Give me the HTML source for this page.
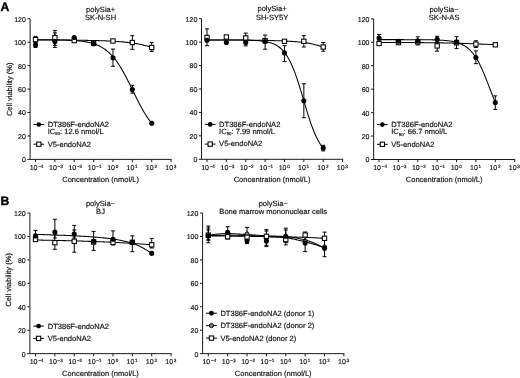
<!DOCTYPE html>
<html><head><meta charset="utf-8"><title>Cell viability</title>
<style>
html,body{margin:0;padding:0;background:#fff;}
body{width:520px;height:378px;overflow:hidden;}
svg{display:block;font-family:"Liberation Sans", Arial, Helvetica, sans-serif;text-rendering:geometricPrecision;}
text{stroke:#222;stroke-width:0.18px;paint-order:stroke;}
</style></head><body>
<svg width="520" height="378" viewBox="0 0 520 378">
<rect width="520" height="378" fill="#fff"/>
<text x="0.4" y="10.5" font-size="12.2" font-weight="bold" fill="#000" style="stroke:#000;stroke-width:0.35px">A</text>
<text x="0.6" y="204.9" font-size="12.2" font-weight="bold" fill="#000" style="stroke:#000;stroke-width:0.35px">B</text>
<g stroke="#1a1a1a" stroke-width="1" fill="none">
<path d="M30.1 18.76V159.4M27.3 159.4H171.59"/>
<path d="M27.5 135.96H30.1M27.5 112.52H30.1M27.5 89.08H30.1M27.5 65.64H30.1M27.5 42.2H30.1M27.5 18.76H30.1M35.5 159.4V162.1M54.87 159.4V162.1M74.24 159.4V162.1M93.61 159.4V162.1M112.98 159.4V162.1M132.35 159.4V162.1M151.72 159.4V162.1M171.09 159.4V162.1"/>
</g>
<g font-size="7.0" fill="#111" text-anchor="end">
<text x="25.9" y="162.3">0</text>
<text x="25.9" y="138.86">20</text>
<text x="25.9" y="115.42">40</text>
<text x="25.9" y="91.98">60</text>
<text x="25.9" y="68.54">80</text>
<text x="25.9" y="45.1">100</text>
<text x="25.9" y="21.66">120</text>
</g>
<g font-size="7.0" fill="#111">
<text x="29.65" y="170.2">10<tspan font-size="4.6" dx="0.75" dy="-2.2">−4</tspan></text>
<text x="49.02" y="170.2">10<tspan font-size="4.6" dx="0.75" dy="-2.2">−3</tspan></text>
<text x="68.39" y="170.2">10<tspan font-size="4.6" dx="0.75" dy="-2.2">−2</tspan></text>
<text x="87.76" y="170.2">10<tspan font-size="4.6" dx="0.75" dy="-2.2">−1</tspan></text>
<text x="107.13" y="170.2">10<tspan font-size="4.6" dx="0.75" dy="-2.2">0</tspan></text>
<text x="126.5" y="170.2">10<tspan font-size="4.6" dx="0.75" dy="-2.2">1</tspan></text>
<text x="145.87" y="170.2">10<tspan font-size="4.6" dx="0.75" dy="-2.2">2</tspan></text>
<text x="165.24" y="170.2">10<tspan font-size="4.6" dx="0.75" dy="-2.2">3</tspan></text>
</g>
<text x="100.59" y="181.6" font-size="7.55" fill="#111" text-anchor="middle">Concentration (nmol/L)</text>
<text x="100.59" y="11.5" font-size="7.55" fill="#111" text-anchor="middle">polySia+</text>
<text x="100.59" y="19.6" font-size="7.55" fill="#111" text-anchor="middle">SK-N-SH</text>
<text transform="translate(11.5 89.28) rotate(-90)" font-size="7.55" fill="#111" text-anchor="middle">Cell viability (%)</text>
<g stroke="#1a1a1a" stroke-width="1" fill="none">
<path d="M201.5 18.66V159.3M198.7 159.3H343.09"/>
<path d="M198.9 135.86H201.5M198.9 112.42H201.5M198.9 88.98H201.5M198.9 65.54H201.5M198.9 42.1H201.5M198.9 18.66H201.5M207 159.3V162M226.37 159.3V162M245.74 159.3V162M265.11 159.3V162M284.48 159.3V162M303.85 159.3V162M323.22 159.3V162M342.59 159.3V162"/>
</g>
<g font-size="7.0" fill="#111" text-anchor="end">
<text x="197.3" y="162.2">0</text>
<text x="197.3" y="138.76">20</text>
<text x="197.3" y="115.32">40</text>
<text x="197.3" y="91.88">60</text>
<text x="197.3" y="68.44">80</text>
<text x="197.3" y="45">100</text>
<text x="197.3" y="21.56">120</text>
</g>
<g font-size="7.0" fill="#111">
<text x="201.15" y="170.1">10<tspan font-size="4.6" dx="0.75" dy="-2.2">−4</tspan></text>
<text x="220.52" y="170.1">10<tspan font-size="4.6" dx="0.75" dy="-2.2">−3</tspan></text>
<text x="239.89" y="170.1">10<tspan font-size="4.6" dx="0.75" dy="-2.2">−2</tspan></text>
<text x="259.26" y="170.1">10<tspan font-size="4.6" dx="0.75" dy="-2.2">−1</tspan></text>
<text x="278.63" y="170.1">10<tspan font-size="4.6" dx="0.75" dy="-2.2">0</tspan></text>
<text x="298" y="170.1">10<tspan font-size="4.6" dx="0.75" dy="-2.2">1</tspan></text>
<text x="317.37" y="170.1">10<tspan font-size="4.6" dx="0.75" dy="-2.2">2</tspan></text>
<text x="336.74" y="170.1">10<tspan font-size="4.6" dx="0.75" dy="-2.2">3</tspan></text>
</g>
<text x="272.05" y="181.5" font-size="7.55" fill="#111" text-anchor="middle">Concentration (nmol/L)</text>
<text x="272.05" y="11.4" font-size="7.55" fill="#111" text-anchor="middle">polySia+</text>
<text x="272.05" y="19.5" font-size="7.55" fill="#111" text-anchor="middle">SH-SY5Y</text>
<g stroke="#1a1a1a" stroke-width="1" fill="none">
<path d="M373.65 18.86V159.5M370.85 159.5H515.14"/>
<path d="M371.05 136.06H373.65M371.05 112.62H373.65M371.05 89.18H373.65M371.05 65.74H373.65M371.05 42.3H373.65M371.05 18.86H373.65M379.05 159.5V162.2M398.42 159.5V162.2M417.79 159.5V162.2M437.16 159.5V162.2M456.53 159.5V162.2M475.9 159.5V162.2M495.27 159.5V162.2M514.64 159.5V162.2"/>
</g>
<g font-size="7.0" fill="#111" text-anchor="end">
<text x="369.45" y="162.4">0</text>
<text x="369.45" y="138.96">20</text>
<text x="369.45" y="115.52">40</text>
<text x="369.45" y="92.08">60</text>
<text x="369.45" y="68.64">80</text>
<text x="369.45" y="45.2">100</text>
<text x="369.45" y="21.76">120</text>
</g>
<g font-size="7.0" fill="#111">
<text x="373.2" y="170.3">10<tspan font-size="4.6" dx="0.75" dy="-2.2">−4</tspan></text>
<text x="392.57" y="170.3">10<tspan font-size="4.6" dx="0.75" dy="-2.2">−3</tspan></text>
<text x="411.94" y="170.3">10<tspan font-size="4.6" dx="0.75" dy="-2.2">−2</tspan></text>
<text x="431.31" y="170.3">10<tspan font-size="4.6" dx="0.75" dy="-2.2">−1</tspan></text>
<text x="450.68" y="170.3">10<tspan font-size="4.6" dx="0.75" dy="-2.2">0</tspan></text>
<text x="470.05" y="170.3">10<tspan font-size="4.6" dx="0.75" dy="-2.2">1</tspan></text>
<text x="489.42" y="170.3">10<tspan font-size="4.6" dx="0.75" dy="-2.2">2</tspan></text>
<text x="508.79" y="170.3">10<tspan font-size="4.6" dx="0.75" dy="-2.2">3</tspan></text>
</g>
<text x="444.14" y="181.7" font-size="7.55" fill="#111" text-anchor="middle">Concentration (nmol/L)</text>
<text x="444.14" y="11.6" font-size="7.55" fill="#111" text-anchor="middle">polySia−</text>
<text x="444.14" y="19.7" font-size="7.55" fill="#111" text-anchor="middle">SK-N-AS</text>
<g stroke="#1a1a1a" stroke-width="1" fill="none">
<path d="M29.9 213.01V353.65M27.1 353.65H171.59"/>
<path d="M27.3 330.21H29.9M27.3 306.77H29.9M27.3 283.33H29.9M27.3 259.89H29.9M27.3 236.45H29.9M27.3 213.01H29.9M35.5 353.65V356.35M54.87 353.65V356.35M74.24 353.65V356.35M93.61 353.65V356.35M112.98 353.65V356.35M132.35 353.65V356.35M151.72 353.65V356.35M171.09 353.65V356.35"/>
</g>
<g font-size="7.0" fill="#111" text-anchor="end">
<text x="25.7" y="356.55">0</text>
<text x="25.7" y="333.11">20</text>
<text x="25.7" y="309.67">40</text>
<text x="25.7" y="286.23">60</text>
<text x="25.7" y="262.79">80</text>
<text x="25.7" y="239.35">100</text>
<text x="25.7" y="215.91">120</text>
</g>
<g font-size="7.0" fill="#111">
<text x="29.65" y="364.45">10<tspan font-size="4.6" dx="0.75" dy="-2.2">−4</tspan></text>
<text x="49.02" y="364.45">10<tspan font-size="4.6" dx="0.75" dy="-2.2">−3</tspan></text>
<text x="68.39" y="364.45">10<tspan font-size="4.6" dx="0.75" dy="-2.2">−2</tspan></text>
<text x="87.76" y="364.45">10<tspan font-size="4.6" dx="0.75" dy="-2.2">−1</tspan></text>
<text x="107.13" y="364.45">10<tspan font-size="4.6" dx="0.75" dy="-2.2">0</tspan></text>
<text x="126.5" y="364.45">10<tspan font-size="4.6" dx="0.75" dy="-2.2">1</tspan></text>
<text x="145.87" y="364.45">10<tspan font-size="4.6" dx="0.75" dy="-2.2">2</tspan></text>
<text x="165.24" y="364.45">10<tspan font-size="4.6" dx="0.75" dy="-2.2">3</tspan></text>
</g>
<text x="100.5" y="375.85" font-size="7.55" fill="#111" text-anchor="middle">Concentration (nmol/L)</text>
<text x="100.5" y="205.75" font-size="7.55" fill="#111" text-anchor="middle">polySia−</text>
<text x="100.5" y="213.85" font-size="7.55" fill="#111" text-anchor="middle">BJ</text>
<text transform="translate(11.3 279.93) rotate(-90)" font-size="7.55" fill="#111" text-anchor="middle">Cell viability (%)</text>
<g stroke="#1a1a1a" stroke-width="1" fill="none">
<path d="M202.6 213.01V353.65M199.8 353.65H344.39"/>
<path d="M200 330.21H202.6M200 306.77H202.6M200 283.33H202.6M200 259.89H202.6M200 236.45H202.6M200 213.01H202.6M208.3 353.65V356.35M227.67 353.65V356.35M247.04 353.65V356.35M266.41 353.65V356.35M285.78 353.65V356.35M305.15 353.65V356.35M324.52 353.65V356.35M343.89 353.65V356.35"/>
</g>
<g font-size="7.0" fill="#111" text-anchor="end">
<text x="198.4" y="356.55">0</text>
<text x="198.4" y="333.11">20</text>
<text x="198.4" y="309.67">40</text>
<text x="198.4" y="286.23">60</text>
<text x="198.4" y="262.79">80</text>
<text x="198.4" y="239.35">100</text>
<text x="198.4" y="215.91">120</text>
</g>
<g font-size="7.0" fill="#111">
<text x="202.45" y="364.45">10<tspan font-size="4.6" dx="0.75" dy="-2.2">−4</tspan></text>
<text x="221.82" y="364.45">10<tspan font-size="4.6" dx="0.75" dy="-2.2">−3</tspan></text>
<text x="241.19" y="364.45">10<tspan font-size="4.6" dx="0.75" dy="-2.2">−2</tspan></text>
<text x="260.56" y="364.45">10<tspan font-size="4.6" dx="0.75" dy="-2.2">−1</tspan></text>
<text x="279.93" y="364.45">10<tspan font-size="4.6" dx="0.75" dy="-2.2">0</tspan></text>
<text x="299.3" y="364.45">10<tspan font-size="4.6" dx="0.75" dy="-2.2">1</tspan></text>
<text x="318.67" y="364.45">10<tspan font-size="4.6" dx="0.75" dy="-2.2">2</tspan></text>
<text x="338.04" y="364.45">10<tspan font-size="4.6" dx="0.75" dy="-2.2">3</tspan></text>
</g>
<text x="273.25" y="375.85" font-size="7.55" fill="#111" text-anchor="middle">Concentration (nmol/L)</text>
<text x="273.25" y="205.75" font-size="7.55" fill="#111" text-anchor="middle">polySia−</text>
<text x="273.25" y="213.85" font-size="7.55" fill="#111" text-anchor="middle">Bone marrow mononuclear cells</text>
<polyline points="35.5,39.67 36.48,39.68 37.45,39.68 38.43,39.68 39.41,39.69 40.38,39.69 41.36,39.7 42.34,39.7 43.31,39.71 44.29,39.71 45.27,39.72 46.24,39.73 47.22,39.73 48.2,39.74 49.17,39.75 50.15,39.76 51.13,39.77 52.1,39.78 53.08,39.79 54.06,39.81 55.03,39.82 56.01,39.84 56.99,39.85 57.96,39.87 58.94,39.89 59.92,39.91 60.89,39.94 61.87,39.96 62.85,39.99 63.82,40.02 64.8,40.05 65.78,40.08 66.75,40.12 67.73,40.16 68.71,40.2 69.68,40.25 70.66,40.3 71.64,40.35 72.61,40.41 73.59,40.47 74.57,40.54 75.54,40.61 76.52,40.69 77.5,40.78 78.47,40.87 79.45,40.97 80.43,41.08 81.4,41.2 82.38,41.33 83.36,41.46 84.33,41.61 85.31,41.77 86.29,41.94 87.26,42.13 88.24,42.33 89.22,42.54 90.19,42.78 91.17,43.03 92.15,43.29 93.12,43.58 94.1,43.9 95.07,44.23 96.05,44.59 97.03,44.98 98,45.39 98.98,45.84 99.96,46.32 100.93,46.83 101.91,47.38 102.89,47.96 103.86,48.59 104.84,49.25 105.82,49.97 106.79,50.72 107.77,51.53 108.75,52.39 109.72,53.3 110.7,54.26 111.68,55.28 112.65,56.35 113.63,57.49 114.61,58.68 115.58,59.94 116.56,61.25 117.54,62.63 118.51,64.07 119.49,65.57 120.47,67.12 121.44,68.74 122.42,70.41 123.4,72.13 124.37,73.9 125.35,75.72 126.33,77.58 127.3,79.48 128.28,81.41 129.26,83.36 130.23,85.34 131.21,87.34 132.19,89.34 133.16,91.34 134.14,93.35 135.12,95.34 136.09,97.32 137.07,99.27 138.05,101.2 139.02,103.09 140,104.95 140.98,106.77 141.95,108.54 142.93,110.26 143.91,111.93 144.88,113.54 145.86,115.09 146.84,116.59 147.81,118.02 148.79,119.4 149.77,120.71 150.74,121.96 151.72,123.16" fill="none" stroke="#000" stroke-width="1.05"/>
<polyline points="35.5,39.9 36.67,39.9 37.85,39.91 39.02,39.91 40.2,39.92 41.37,39.92 42.54,39.93 43.72,39.93 44.89,39.94 46.07,39.94 47.24,39.95 48.41,39.96 49.59,39.97 50.76,39.97 51.94,39.98 53.11,39.99 54.28,40 55.46,40 56.63,40.01 57.8,40.02 58.98,40.03 60.15,40.04 61.33,40.05 62.5,40.07 63.67,40.08 64.85,40.09 66.02,40.1 67.2,40.12 68.37,40.13 69.54,40.14 70.72,40.16 71.89,40.17 73.07,40.19 74.24,40.2 75.41,40.21 76.59,40.23 77.76,40.24 78.94,40.26 80.11,40.27 81.28,40.29 82.46,40.31 83.63,40.32 84.81,40.34 85.98,40.36 87.15,40.38 88.33,40.4 89.5,40.42 90.68,40.44 91.85,40.46 93.02,40.49 94.2,40.51 95.37,40.54 96.54,40.57 97.72,40.6 98.89,40.63 100.07,40.67 101.24,40.71 102.41,40.75 103.59,40.79 104.76,40.83 105.94,40.88 107.11,40.92 108.28,40.97 109.46,41.03 110.63,41.08 111.81,41.14 112.98,41.2 114.15,41.26 115.33,41.33 116.5,41.41 117.68,41.49 118.85,41.58 120.02,41.68 121.2,41.78 122.37,41.88 123.55,41.99 124.72,42.11 125.89,42.23 127.07,42.36 128.24,42.49 129.42,42.63 130.59,42.77 131.76,42.92 132.94,43.08 134.11,43.25 135.28,43.43 136.46,43.64 137.63,43.85 138.81,44.08 139.98,44.32 141.15,44.58 142.33,44.84 143.5,45.12 144.68,45.4 145.85,45.7 147.02,46.01 148.2,46.32 149.37,46.64 150.55,46.97 151.72,47.3" fill="none" stroke="#000" stroke-width="1.05"/>
<path d="M35.5 36.4V42.5M33.5 36.4h4M33.5 42.5h4" stroke="#000" stroke-width="1" fill="none"/>
<path d="M54.87 30.6V45.3M52.87 30.6h4M52.87 45.3h4" stroke="#000" stroke-width="1" fill="none"/>
<path d="M132.35 35.7V49.4M130.35 35.7h4M130.35 49.4h4" stroke="#000" stroke-width="1" fill="none"/>
<path d="M151.72 42.4V51.4M149.72 42.4h4M149.72 51.4h4" stroke="#000" stroke-width="1" fill="none"/>
<path d="M35.5 43.2V47.4M33.5 43.2h4M33.5 47.4h4" stroke="#000" stroke-width="1" fill="none"/>
<path d="M54.87 32.9V47.4M52.87 32.9h4M52.87 47.4h4" stroke="#000" stroke-width="1" fill="none"/>
<path d="M112.98 49.1V66.3M110.98 49.1h4M110.98 66.3h4" stroke="#000" stroke-width="1" fill="none"/>
<path d="M132.35 85.3V93.1M130.35 85.3h4M130.35 93.1h4" stroke="#000" stroke-width="1" fill="none"/>
<rect x="33.35" y="37.45" width="4.3" height="4.3" fill="#fff" stroke="#000" stroke-width="1.05"/>
<rect x="52.72" y="35.55" width="4.3" height="4.3" fill="#fff" stroke="#000" stroke-width="1.05"/>
<rect x="72.09" y="38.45" width="4.3" height="4.3" fill="#fff" stroke="#000" stroke-width="1.05"/>
<rect x="91.46" y="41.15" width="4.3" height="4.3" fill="#fff" stroke="#000" stroke-width="1.05"/>
<rect x="110.83" y="38.85" width="4.3" height="4.3" fill="#fff" stroke="#000" stroke-width="1.05"/>
<rect x="130.2" y="40.35" width="4.3" height="4.3" fill="#fff" stroke="#000" stroke-width="1.05"/>
<rect x="149.57" y="45.35" width="4.3" height="4.3" fill="#fff" stroke="#000" stroke-width="1.05"/>
<circle cx="35.5" cy="45.1" r="2.55" fill="#000" stroke="#000" stroke-width="0"/>
<circle cx="54.87" cy="41.6" r="2.55" fill="#000" stroke="#000" stroke-width="0"/>
<circle cx="74.24" cy="37.5" r="2.55" fill="#000" stroke="#000" stroke-width="0"/>
<circle cx="93.61" cy="43.7" r="2.55" fill="#000" stroke="#000" stroke-width="0"/>
<circle cx="112.98" cy="57.7" r="2.55" fill="#000" stroke="#000" stroke-width="0"/>
<circle cx="132.35" cy="89.5" r="2.55" fill="#000" stroke="#000" stroke-width="0"/>
<circle cx="151.72" cy="123.2" r="2.55" fill="#000" stroke="#000" stroke-width="0"/>
<path d="M33.45 124.5h10.7M33.45 144.2h10.7" stroke="#000" stroke-width="1"/>
<circle cx="38.8" cy="124.5" r="2.35" fill="#000" stroke="#000" stroke-width="0"/>
<rect x="36.65" y="142.05" width="4.3" height="4.3" fill="#fff" stroke="#000" stroke-width="1.05"/>
<g font-size="7.55" fill="#111">
<text x="47.7" y="127">DT386F-endoNA2</text>
<text x="47.7" y="134.2">IC<tspan font-size="4.3" dy="1.2">50</tspan><tspan dy="-1.2">: 12.6 nmol/L</tspan></text>
<text x="47.7" y="146.5">V5-endoNA2</text>
</g>
<polyline points="207,39.99 207.98,39.99 208.95,39.99 209.93,39.99 210.91,39.99 211.88,39.99 212.86,39.99 213.84,39.99 214.81,39.99 215.79,39.99 216.77,39.99 217.74,39.99 218.72,39.99 219.7,39.99 220.67,40 221.65,40 222.63,40 223.6,40 224.58,40 225.56,40 226.53,40.01 227.51,40.01 228.49,40.01 229.46,40.01 230.44,40.02 231.42,40.02 232.39,40.02 233.37,40.03 234.35,40.03 235.32,40.04 236.3,40.05 237.28,40.05 238.25,40.06 239.23,40.07 240.21,40.08 241.18,40.09 242.16,40.1 243.14,40.12 244.11,40.13 245.09,40.15 246.07,40.17 247.04,40.19 248.02,40.21 249,40.24 249.97,40.27 250.95,40.3 251.93,40.34 252.9,40.38 253.88,40.42 254.86,40.47 255.83,40.53 256.81,40.59 257.79,40.66 258.76,40.74 259.74,40.83 260.72,40.93 261.69,41.04 262.67,41.16 263.65,41.29 264.62,41.44 265.6,41.61 266.57,41.8 267.55,42 268.53,42.23 269.5,42.49 270.48,42.77 271.46,43.09 272.43,43.44 273.41,43.83 274.39,44.26 275.36,44.74 276.34,45.27 277.32,45.86 278.29,46.51 279.27,47.22 280.25,48.01 281.22,48.87 282.2,49.82 283.18,50.87 284.15,52.01 285.13,53.25 286.11,54.61 287.08,56.09 288.06,57.69 289.04,59.41 290.01,61.28 290.99,63.28 291.97,65.41 292.94,67.69 293.92,70.11 294.9,72.67 295.87,75.35 296.85,78.16 297.83,81.09 298.8,84.12 299.78,87.24 300.76,90.43 301.73,93.68 302.71,96.96 303.69,100.27 304.66,103.57 305.64,106.85 306.62,110.09 307.59,113.28 308.57,116.38 309.55,119.39 310.52,122.3 311.5,125.09 312.48,127.76 313.45,130.29 314.43,132.69 315.41,134.95 316.38,137.06 317.36,139.04 318.34,140.88 319.31,142.59 320.29,144.17 321.27,145.63 322.24,146.97 323.22,148.2" fill="none" stroke="#000" stroke-width="1.05"/>
<polyline points="207,40 208.17,40 209.35,40 210.52,40 211.7,40 212.87,40 214.04,40 215.22,40 216.39,40 217.57,40 218.74,40 219.91,40 221.09,40 222.26,40 223.44,40 224.61,40 225.78,40 226.96,40 228.13,40 229.3,40 230.48,40.01 231.65,40.01 232.83,40.01 234,40.02 235.17,40.03 236.35,40.03 237.52,40.04 238.7,40.05 239.87,40.06 241.04,40.06 242.22,40.07 243.39,40.08 244.57,40.09 245.74,40.1 246.91,40.11 248.09,40.12 249.26,40.13 250.44,40.15 251.61,40.16 252.78,40.18 253.96,40.2 255.13,40.21 256.31,40.23 257.48,40.25 258.65,40.27 259.83,40.3 261,40.32 262.18,40.34 263.35,40.36 264.52,40.39 265.7,40.41 266.87,40.44 268.04,40.46 269.22,40.49 270.39,40.52 271.57,40.55 272.74,40.58 273.91,40.62 275.09,40.65 276.26,40.69 277.44,40.73 278.61,40.77 279.78,40.81 280.96,40.85 282.13,40.9 283.31,40.95 284.48,41 285.65,41.05 286.83,41.11 288,41.17 289.18,41.24 290.35,41.31 291.52,41.39 292.7,41.47 293.87,41.55 295.05,41.64 296.22,41.74 297.39,41.84 298.57,41.95 299.74,42.06 300.92,42.18 302.09,42.3 303.26,42.43 304.44,42.57 305.61,42.73 306.78,42.91 307.96,43.11 309.13,43.32 310.31,43.56 311.48,43.81 312.65,44.07 313.83,44.35 315,44.65 316.18,44.95 317.35,45.27 318.52,45.6 319.7,45.94 320.87,46.29 322.05,46.64 323.22,47" fill="none" stroke="#000" stroke-width="1.05"/>
<path d="M303.85 35.7V47M301.85 35.7h4M301.85 47h4" stroke="#000" stroke-width="1" fill="none"/>
<path d="M323.22 42.5V51.2M321.22 42.5h4M321.22 51.2h4" stroke="#000" stroke-width="1" fill="none"/>
<path d="M207 28.9V45.7M205 28.9h4M205 45.7h4" stroke="#000" stroke-width="1" fill="none"/>
<path d="M245.74 33.1V45.9M243.74 33.1h4M243.74 45.9h4" stroke="#000" stroke-width="1" fill="none"/>
<path d="M265.11 35V49.2M263.11 35h4M263.11 49.2h4" stroke="#000" stroke-width="1" fill="none"/>
<path d="M284.48 45.6V61.5M282.48 45.6h4M282.48 61.5h4" stroke="#000" stroke-width="1" fill="none"/>
<path d="M303.85 83.8V117.7M301.85 83.8h4M301.85 117.7h4" stroke="#000" stroke-width="1" fill="none"/>
<path d="M323.22 145.3V150.9M321.22 145.3h4M321.22 150.9h4" stroke="#000" stroke-width="1" fill="none"/>
<rect x="204.85" y="35.25" width="4.3" height="4.3" fill="#fff" stroke="#000" stroke-width="1.05"/>
<rect x="224.22" y="34.85" width="4.3" height="4.3" fill="#fff" stroke="#000" stroke-width="1.05"/>
<rect x="243.59" y="35.85" width="4.3" height="4.3" fill="#fff" stroke="#000" stroke-width="1.05"/>
<rect x="262.96" y="38.45" width="4.3" height="4.3" fill="#fff" stroke="#000" stroke-width="1.05"/>
<rect x="282.33" y="39.15" width="4.3" height="4.3" fill="#fff" stroke="#000" stroke-width="1.05"/>
<rect x="301.7" y="39.15" width="4.3" height="4.3" fill="#fff" stroke="#000" stroke-width="1.05"/>
<rect x="321.07" y="44.85" width="4.3" height="4.3" fill="#fff" stroke="#000" stroke-width="1.05"/>
<circle cx="207" cy="40.3" r="2.55" fill="#000" stroke="#000" stroke-width="0"/>
<circle cx="226.37" cy="42.4" r="2.55" fill="#000" stroke="#000" stroke-width="0"/>
<circle cx="245.74" cy="42.4" r="2.55" fill="#000" stroke="#000" stroke-width="0"/>
<circle cx="265.11" cy="41.5" r="2.55" fill="#000" stroke="#000" stroke-width="0"/>
<circle cx="284.48" cy="52.9" r="2.55" fill="#000" stroke="#000" stroke-width="0"/>
<circle cx="303.85" cy="100.8" r="2.55" fill="#000" stroke="#000" stroke-width="0"/>
<circle cx="323.22" cy="148.1" r="2.55" fill="#000" stroke="#000" stroke-width="0"/>
<path d="M204.85 124.4h10.7M204.85 144.1h10.7" stroke="#000" stroke-width="1"/>
<circle cx="210.2" cy="124.4" r="2.35" fill="#000" stroke="#000" stroke-width="0"/>
<rect x="208.05" y="141.95" width="4.3" height="4.3" fill="#fff" stroke="#000" stroke-width="1.05"/>
<g font-size="7.55" fill="#111">
<text x="219.1" y="126.9">DT386F-endoNA2</text>
<text x="219.1" y="134.1">IC<tspan font-size="4.3" dy="1.2">50</tspan><tspan dy="-1.2">: 7.99 nmol/L</tspan></text>
<text x="219.1" y="146.4">V5-endoNA2</text>
</g>
<polyline points="379.05,39.63 380.03,39.63 381,39.63 381.98,39.64 382.96,39.64 383.93,39.64 384.91,39.64 385.89,39.64 386.86,39.64 387.84,39.64 388.82,39.64 389.79,39.64 390.77,39.64 391.75,39.64 392.72,39.64 393.7,39.64 394.68,39.64 395.65,39.64 396.63,39.64 397.61,39.64 398.58,39.64 399.56,39.64 400.54,39.64 401.51,39.64 402.49,39.64 403.47,39.64 404.44,39.65 405.42,39.65 406.4,39.65 407.37,39.65 408.35,39.65 409.33,39.65 410.3,39.65 411.28,39.66 412.26,39.66 413.23,39.66 414.21,39.67 415.19,39.67 416.16,39.67 417.14,39.68 418.12,39.68 419.09,39.69 420.07,39.69 421.05,39.7 422.02,39.71 423,39.71 423.98,39.72 424.95,39.73 425.93,39.74 426.91,39.75 427.88,39.77 428.86,39.78 429.84,39.8 430.81,39.82 431.79,39.84 432.77,39.86 433.74,39.88 434.72,39.91 435.7,39.94 436.67,39.97 437.65,40.01 438.62,40.05 439.6,40.1 440.58,40.15 441.55,40.2 442.53,40.26 443.51,40.33 444.48,40.41 445.46,40.49 446.44,40.58 447.41,40.69 448.39,40.8 449.37,40.93 450.34,41.07 451.32,41.22 452.3,41.39 453.27,41.58 454.25,41.79 455.23,42.02 456.2,42.27 457.18,42.55 458.16,42.86 459.13,43.2 460.11,43.57 461.09,43.98 462.06,44.43 463.04,44.93 464.02,45.48 464.99,46.07 465.97,46.73 466.95,47.44 467.92,48.22 468.9,49.07 469.88,49.99 470.85,50.99 471.83,52.08 472.81,53.25 473.78,54.52 474.76,55.88 475.74,57.34 476.71,58.9 477.69,60.56 478.67,62.33 479.64,64.2 480.62,66.16 481.6,68.23 482.57,70.39 483.55,72.64 484.53,74.96 485.5,77.36 486.48,79.82 487.46,82.32 488.43,84.87 489.41,87.44 490.39,90.02 491.36,92.59 492.34,95.15 493.32,97.68 494.29,100.17 495.27,102.6" fill="none" stroke="#000" stroke-width="1.05"/>
<polyline points="379.05,42.5 380.22,42.5 381.4,42.51 382.57,42.51 383.75,42.51 384.92,42.52 386.09,42.52 387.27,42.52 388.44,42.52 389.62,42.53 390.79,42.53 391.96,42.53 393.14,42.54 394.31,42.54 395.49,42.54 396.66,42.55 397.83,42.55 399.01,42.55 400.18,42.55 401.35,42.56 402.53,42.56 403.7,42.56 404.88,42.56 406.05,42.57 407.22,42.57 408.4,42.57 409.57,42.57 410.75,42.58 411.92,42.58 413.09,42.58 414.27,42.59 415.44,42.59 416.62,42.6 417.79,42.6 418.96,42.61 420.14,42.61 421.31,42.62 422.49,42.63 423.66,42.64 424.83,42.65 426.01,42.66 427.18,42.67 428.36,42.69 429.53,42.7 430.7,42.71 431.88,42.73 433.05,42.74 434.23,42.76 435.4,42.78 436.57,42.79 437.75,42.81 438.92,42.83 440.09,42.84 441.27,42.86 442.44,42.88 443.62,42.91 444.79,42.93 445.96,42.95 447.14,42.98 448.31,43 449.49,43.03 450.66,43.05 451.83,43.08 453.01,43.11 454.18,43.14 455.36,43.17 456.53,43.2 457.7,43.23 458.88,43.27 460.05,43.3 461.23,43.34 462.4,43.38 463.57,43.42 464.75,43.47 465.92,43.51 467.1,43.55 468.27,43.6 469.44,43.65 470.62,43.69 471.79,43.74 472.97,43.79 474.14,43.83 475.31,43.88 476.49,43.92 477.66,43.97 478.83,44.01 480.01,44.06 481.18,44.11 482.36,44.16 483.53,44.2 484.7,44.25 485.88,44.3 487.05,44.35 488.23,44.4 489.4,44.45 490.57,44.5 491.75,44.55 492.92,44.6 494.1,44.65 495.27,44.7" fill="none" stroke="#000" stroke-width="1.05"/>
<path d="M437.16 42V51.2M435.16 42h4M435.16 51.2h4" stroke="#000" stroke-width="1" fill="none"/>
<path d="M475.9 40.75V47.5M473.9 40.75h4M473.9 47.5h4" stroke="#000" stroke-width="1" fill="none"/>
<path d="M379.05 34.4V41M377.05 34.4h4M377.05 41h4" stroke="#000" stroke-width="1" fill="none"/>
<path d="M417.79 36.8V44.9M415.79 36.8h4M415.79 44.9h4" stroke="#000" stroke-width="1" fill="none"/>
<path d="M437.16 36.3V43M435.16 36.3h4M435.16 43h4" stroke="#000" stroke-width="1" fill="none"/>
<path d="M456.53 36.7V48.6M454.53 36.7h4M454.53 48.6h4" stroke="#000" stroke-width="1" fill="none"/>
<path d="M475.9 50.9V63.7M473.9 50.9h4M473.9 63.7h4" stroke="#000" stroke-width="1" fill="none"/>
<path d="M495.27 95.9V109.4M493.27 95.9h4M493.27 109.4h4" stroke="#000" stroke-width="1" fill="none"/>
<rect x="376.9" y="41.35" width="4.3" height="4.3" fill="#fff" stroke="#000" stroke-width="1.05"/>
<rect x="396.27" y="40.45" width="4.3" height="4.3" fill="#fff" stroke="#000" stroke-width="1.05"/>
<rect x="415.64" y="39.85" width="4.3" height="4.3" fill="#fff" stroke="#000" stroke-width="1.05"/>
<rect x="435.01" y="43.75" width="4.3" height="4.3" fill="#fff" stroke="#000" stroke-width="1.05"/>
<rect x="454.38" y="40.65" width="4.3" height="4.3" fill="#fff" stroke="#000" stroke-width="1.05"/>
<rect x="473.75" y="41.95" width="4.3" height="4.3" fill="#fff" stroke="#000" stroke-width="1.05"/>
<rect x="493.12" y="42.65" width="4.3" height="4.3" fill="#fff" stroke="#000" stroke-width="1.05"/>
<circle cx="379.05" cy="38" r="2.55" fill="#000" stroke="#000" stroke-width="0"/>
<circle cx="398.42" cy="41.3" r="2.55" fill="#000" stroke="#000" stroke-width="0"/>
<circle cx="417.79" cy="40.9" r="2.55" fill="#000" stroke="#000" stroke-width="0"/>
<circle cx="437.16" cy="39.4" r="2.55" fill="#000" stroke="#000" stroke-width="0"/>
<circle cx="456.53" cy="41.9" r="2.55" fill="#000" stroke="#000" stroke-width="0"/>
<circle cx="475.9" cy="57.6" r="2.55" fill="#000" stroke="#000" stroke-width="0"/>
<circle cx="495.27" cy="102.6" r="2.55" fill="#000" stroke="#000" stroke-width="0"/>
<path d="M377 124.6h10.7M377 144.3h10.7" stroke="#000" stroke-width="1"/>
<circle cx="382.35" cy="124.6" r="2.35" fill="#000" stroke="#000" stroke-width="0"/>
<rect x="380.2" y="142.15" width="4.3" height="4.3" fill="#fff" stroke="#000" stroke-width="1.05"/>
<g font-size="7.55" fill="#111">
<text x="391.25" y="127.1">DT386F-endoNA2</text>
<text x="391.25" y="134.3">IC<tspan font-size="4.3" dy="1.2">50</tspan><tspan dy="-1.2">: 66.7 nmol/L</tspan></text>
<text x="391.25" y="146.6">V5-endoNA2</text>
</g>
<polyline points="35.5,234.4 36.67,234.43 37.85,234.46 39.02,234.49 40.2,234.53 41.37,234.56 42.54,234.6 43.72,234.63 44.89,234.67 46.07,234.7 47.24,234.74 48.41,234.78 49.59,234.82 50.76,234.86 51.94,234.9 53.11,234.94 54.28,234.98 55.46,235.02 56.63,235.06 57.8,235.11 58.98,235.15 60.15,235.19 61.33,235.24 62.5,235.28 63.67,235.33 64.85,235.38 66.02,235.43 67.2,235.48 68.37,235.53 69.54,235.58 70.72,235.63 71.89,235.69 73.07,235.74 74.24,235.8 75.41,235.86 76.59,235.92 77.76,235.98 78.94,236.04 80.11,236.11 81.28,236.18 82.46,236.24 83.63,236.31 84.81,236.39 85.98,236.46 87.15,236.54 88.33,236.62 89.5,236.7 90.68,236.78 91.85,236.87 93.02,236.95 94.2,237.05 95.37,237.14 96.54,237.23 97.72,237.33 98.89,237.43 100.07,237.54 101.24,237.65 102.41,237.76 103.59,237.88 104.76,238 105.94,238.12 107.11,238.25 108.28,238.39 109.46,238.53 110.63,238.68 111.81,238.84 112.98,239 114.15,239.17 115.33,239.35 116.5,239.54 117.68,239.75 118.85,239.96 120.02,240.19 121.2,240.42 122.37,240.67 123.55,240.93 124.72,241.21 125.89,241.49 127.07,241.79 128.24,242.1 129.42,242.43 130.59,242.77 131.76,243.12 132.94,243.49 134.11,243.89 135.28,244.33 136.46,244.8 137.63,245.31 138.81,245.85 139.98,246.42 141.15,247.01 142.33,247.64 143.5,248.29 144.68,248.96 145.85,249.65 147.02,250.37 148.2,251.1 149.37,251.85 150.55,252.62 151.72,253.4" fill="none" stroke="#000" stroke-width="1.05"/>
<polyline points="35.5,240 36.67,240.02 37.85,240.04 39.02,240.07 40.2,240.09 41.37,240.11 42.54,240.13 43.72,240.16 44.89,240.18 46.07,240.21 47.24,240.23 48.41,240.26 49.59,240.28 50.76,240.31 51.94,240.33 53.11,240.36 54.28,240.39 55.46,240.41 56.63,240.44 57.8,240.47 58.98,240.5 60.15,240.53 61.33,240.56 62.5,240.58 63.67,240.61 64.85,240.64 66.02,240.68 67.2,240.71 68.37,240.74 69.54,240.77 70.72,240.8 71.89,240.83 73.07,240.87 74.24,240.9 75.41,240.93 76.59,240.97 77.76,241 78.94,241.03 80.11,241.07 81.28,241.1 82.46,241.14 83.63,241.17 84.81,241.21 85.98,241.25 87.15,241.28 88.33,241.32 89.5,241.36 90.68,241.4 91.85,241.44 93.02,241.48 94.2,241.52 95.37,241.56 96.54,241.61 97.72,241.65 98.89,241.69 100.07,241.74 101.24,241.79 102.41,241.83 103.59,241.88 104.76,241.93 105.94,241.98 107.11,242.03 108.28,242.08 109.46,242.14 110.63,242.19 111.81,242.24 112.98,242.3 114.15,242.36 115.33,242.42 116.5,242.48 117.68,242.54 118.85,242.6 120.02,242.66 121.2,242.73 122.37,242.8 123.55,242.86 124.72,242.93 125.89,243 127.07,243.07 128.24,243.14 129.42,243.22 130.59,243.29 131.76,243.36 132.94,243.44 134.11,243.51 135.28,243.59 136.46,243.67 137.63,243.75 138.81,243.83 139.98,243.91 141.15,244 142.33,244.08 143.5,244.17 144.68,244.25 145.85,244.34 147.02,244.43 148.2,244.52 149.37,244.61 150.55,244.71 151.72,244.8" fill="none" stroke="#000" stroke-width="1.05"/>
<path d="M54.87 235V249.3M52.87 235h4M52.87 249.3h4" stroke="#000" stroke-width="1" fill="none"/>
<path d="M74.24 230V252.2M72.24 230h4M72.24 252.2h4" stroke="#000" stroke-width="1" fill="none"/>
<path d="M151.72 238.4V248M149.72 238.4h4M149.72 248h4" stroke="#000" stroke-width="1" fill="none"/>
<path d="M35.5 230.4V240M33.5 230.4h4M33.5 240h4" stroke="#000" stroke-width="1" fill="none"/>
<path d="M54.87 219.3V238M52.87 219.3h4M52.87 238h4" stroke="#000" stroke-width="1" fill="none"/>
<path d="M74.24 225.4V238M72.24 225.4h4M72.24 238h4" stroke="#000" stroke-width="1" fill="none"/>
<path d="M93.61 231.4V250.4M91.61 231.4h4M91.61 250.4h4" stroke="#000" stroke-width="1" fill="none"/>
<path d="M112.98 230.9V245M110.98 230.9h4M110.98 245h4" stroke="#000" stroke-width="1" fill="none"/>
<path d="M132.35 235.8V251.7M130.35 235.8h4M130.35 251.7h4" stroke="#000" stroke-width="1" fill="none"/>
<rect x="33.35" y="237.35" width="4.3" height="4.3" fill="#fff" stroke="#000" stroke-width="1.05"/>
<rect x="52.72" y="240.55" width="4.3" height="4.3" fill="#fff" stroke="#000" stroke-width="1.05"/>
<rect x="72.09" y="239.15" width="4.3" height="4.3" fill="#fff" stroke="#000" stroke-width="1.05"/>
<rect x="91.46" y="239.85" width="4.3" height="4.3" fill="#fff" stroke="#000" stroke-width="1.05"/>
<rect x="110.83" y="240.15" width="4.3" height="4.3" fill="#fff" stroke="#000" stroke-width="1.05"/>
<rect x="130.2" y="240.15" width="4.3" height="4.3" fill="#fff" stroke="#000" stroke-width="1.05"/>
<rect x="149.57" y="242.65" width="4.3" height="4.3" fill="#fff" stroke="#000" stroke-width="1.05"/>
<circle cx="35.5" cy="235.9" r="2.55" fill="#000" stroke="#000" stroke-width="0"/>
<circle cx="54.87" cy="232" r="2.55" fill="#000" stroke="#000" stroke-width="0"/>
<circle cx="74.24" cy="234" r="2.55" fill="#000" stroke="#000" stroke-width="0"/>
<circle cx="93.61" cy="241.3" r="2.55" fill="#000" stroke="#000" stroke-width="0"/>
<circle cx="112.98" cy="239.2" r="2.55" fill="#000" stroke="#000" stroke-width="0"/>
<circle cx="132.35" cy="242.3" r="2.55" fill="#000" stroke="#000" stroke-width="0"/>
<circle cx="151.72" cy="253.4" r="2.55" fill="#000" stroke="#000" stroke-width="0"/>
<path d="M33.25 326.1h10.7M33.25 338.4h10.7" stroke="#000" stroke-width="1"/>
<circle cx="38.6" cy="326.1" r="2.35" fill="#000" stroke="#000" stroke-width="0"/>
<rect x="36.45" y="336.25" width="4.3" height="4.3" fill="#fff" stroke="#000" stroke-width="1.05"/>
<g font-size="7.55" fill="#111"><text x="47.7" y="328.7">DT386F-endoNA2</text><text x="47.7" y="341">V5-endoNA2</text></g>
<polyline points="208.3,235.3 209.47,235.12 210.65,234.95 211.82,234.78 213,234.62 214.17,234.48 215.34,234.34 216.52,234.21 217.69,234.1 218.87,233.99 220.04,233.9 221.21,233.81 222.39,233.75 223.56,233.69 224.74,233.65 225.91,233.62 227.08,233.6 228.26,233.6 229.43,233.62 230.6,233.64 231.78,233.68 232.95,233.72 234.13,233.78 235.3,233.84 236.47,233.91 237.65,233.98 238.82,234.06 240,234.14 241.17,234.22 242.34,234.3 243.52,234.38 244.69,234.46 245.87,234.53 247.04,234.6 248.21,234.67 249.39,234.74 250.56,234.81 251.74,234.89 252.91,234.96 254.08,235.04 255.26,235.12 256.43,235.2 257.61,235.27 258.78,235.35 259.95,235.43 261.13,235.5 262.3,235.57 263.48,235.64 264.65,235.71 265.82,235.77 267,235.83 268.17,235.88 269.34,235.93 270.52,235.97 271.69,236.01 272.87,236.05 274.04,236.09 275.21,236.13 276.39,236.17 277.56,236.21 278.74,236.25 279.91,236.29 281.08,236.34 282.26,236.4 283.43,236.46 284.61,236.53 285.78,236.6 286.95,236.69 288.13,236.8 289.3,236.92 290.48,237.07 291.65,237.23 292.82,237.41 294,237.6 295.17,237.81 296.35,238.02 297.52,238.26 298.69,238.5 299.87,238.75 301.04,239.02 302.22,239.29 303.39,239.57 304.56,239.85 305.74,240.15 306.91,240.47 308.08,240.83 309.26,241.22 310.43,241.63 311.61,242.07 312.78,242.54 313.95,243.03 315.13,243.54 316.3,244.07 317.48,244.63 318.65,245.2 319.82,245.79 321,246.4 322.17,247.02 323.35,247.65 324.52,248.3" fill="none" stroke="#000" stroke-width="1.05"/>
<polyline points="208.3,235.7 209.47,235.64 210.65,235.59 211.82,235.54 213,235.49 214.17,235.45 215.34,235.41 216.52,235.37 217.69,235.34 218.87,235.31 220.04,235.28 221.21,235.26 222.39,235.24 223.56,235.22 224.74,235.21 225.91,235.2 227.08,235.2 228.26,235.2 229.43,235.21 230.6,235.21 231.78,235.23 232.95,235.24 234.13,235.26 235.3,235.28 236.47,235.31 237.65,235.34 238.82,235.36 240,235.4 241.17,235.43 242.34,235.46 243.52,235.5 244.69,235.53 245.87,235.57 247.04,235.6 248.21,235.64 249.39,235.68 250.56,235.73 251.74,235.78 252.91,235.83 254.08,235.89 255.26,235.95 256.43,236.02 257.61,236.08 258.78,236.15 259.95,236.22 261.13,236.29 262.3,236.36 263.48,236.43 264.65,236.5 265.82,236.57 267,236.63 268.17,236.7 269.34,236.76 270.52,236.82 271.69,236.88 272.87,236.94 274.04,237 275.21,237.06 276.39,237.12 277.56,237.19 278.74,237.26 279.91,237.33 281.08,237.41 282.26,237.5 283.43,237.59 284.61,237.69 285.78,237.8 286.95,237.92 288.13,238.07 289.3,238.24 290.48,238.43 291.65,238.64 292.82,238.87 294,239.11 295.17,239.37 296.35,239.63 297.52,239.91 298.69,240.19 299.87,240.48 301.04,240.77 302.22,241.06 303.39,241.36 304.56,241.65 305.74,241.95 306.91,242.25 308.08,242.56 309.26,242.88 310.43,243.21 311.61,243.55 312.78,243.9 313.95,244.25 315.13,244.62 316.3,244.99 317.48,245.37 318.65,245.76 319.82,246.15 321,246.55 322.17,246.96 323.35,247.38 324.52,247.8" fill="none" stroke="#000" stroke-width="1.05"/>
<polyline points="208.3,235.9 209.47,235.91 210.65,235.92 211.82,235.94 213,235.95 214.17,235.96 215.34,235.97 216.52,235.98 217.69,236 218.87,236.01 220.04,236.02 221.21,236.03 222.39,236.05 223.56,236.06 224.74,236.07 225.91,236.08 227.08,236.09 228.26,236.11 229.43,236.12 230.6,236.13 231.78,236.14 232.95,236.15 234.13,236.16 235.3,236.18 236.47,236.19 237.65,236.2 238.82,236.21 240,236.22 241.17,236.23 242.34,236.25 243.52,236.26 244.69,236.27 245.87,236.29 247.04,236.3 248.21,236.31 249.39,236.33 250.56,236.35 251.74,236.36 252.91,236.38 254.08,236.4 255.26,236.42 256.43,236.44 257.61,236.46 258.78,236.48 259.95,236.5 261.13,236.51 262.3,236.53 263.48,236.55 264.65,236.57 265.82,236.59 267,236.61 268.17,236.63 269.34,236.64 270.52,236.66 271.69,236.68 272.87,236.69 274.04,236.71 275.21,236.73 276.39,236.74 277.56,236.76 278.74,236.78 279.91,236.8 281.08,236.82 282.26,236.84 283.43,236.86 284.61,236.88 285.78,236.9 286.95,236.92 288.13,236.95 289.3,236.97 290.48,237 291.65,237.02 292.82,237.05 294,237.08 295.17,237.11 296.35,237.14 297.52,237.17 298.69,237.2 299.87,237.24 301.04,237.27 302.22,237.31 303.39,237.34 304.56,237.38 305.74,237.42 306.91,237.46 308.08,237.5 309.26,237.55 310.43,237.6 311.61,237.65 312.78,237.7 313.95,237.75 315.13,237.81 316.3,237.86 317.48,237.92 318.65,237.98 319.82,238.04 321,238.11 322.17,238.17 323.35,238.23 324.52,238.3" fill="none" stroke="#000" stroke-width="1.05"/>
<path d="M208.3 227.9V240M206.3 227.9h4M206.3 240h4" stroke="#000" stroke-width="1" fill="none"/>
<path d="M208.3 229.9V240M206.3 229.9h4M206.3 240h4" stroke="#000" stroke-width="1" fill="none"/>
<path d="M266.41 231V245.3M264.41 231h4M264.41 245.3h4" stroke="#000" stroke-width="1" fill="none"/>
<path d="M285.78 230V242.6M283.78 230h4M283.78 242.6h4" stroke="#000" stroke-width="1" fill="none"/>
<path d="M305.15 233.5V240M303.15 233.5h4M303.15 240h4" stroke="#000" stroke-width="1" fill="none"/>
<path d="M208.3 226V242.8M206.3 226h4M206.3 242.8h4" stroke="#000" stroke-width="1" fill="none"/>
<path d="M227.67 226.7V239M225.67 226.7h4M225.67 239h4" stroke="#000" stroke-width="1" fill="none"/>
<path d="M247.04 227.4V243.6M245.04 227.4h4M245.04 243.6h4" stroke="#000" stroke-width="1" fill="none"/>
<path d="M266.41 229.6V246.6M264.41 229.6h4M264.41 246.6h4" stroke="#000" stroke-width="1" fill="none"/>
<path d="M285.78 228.2V244.9M283.78 228.2h4M283.78 244.9h4" stroke="#000" stroke-width="1" fill="none"/>
<path d="M305.15 232V251.6M303.15 232h4M303.15 251.6h4" stroke="#000" stroke-width="1" fill="none"/>
<path d="M324.52 240V256.7M322.52 240h4M322.52 256.7h4" stroke="#000" stroke-width="1" fill="none"/>
<path d="M324.52 232.1V240M322.52 232.1h4M322.52 240h4" stroke="#000" stroke-width="1" fill="none"/>
<circle cx="208.3" cy="235.6" r="2.1" fill="#808080" stroke="#000" stroke-width="0.9"/>
<circle cx="227.67" cy="233.4" r="2.1" fill="#808080" stroke="#000" stroke-width="0.9"/>
<circle cx="247.04" cy="234" r="2.1" fill="#808080" stroke="#000" stroke-width="0.9"/>
<circle cx="266.41" cy="238.2" r="2.1" fill="#808080" stroke="#000" stroke-width="0.9"/>
<circle cx="285.78" cy="237.6" r="2.1" fill="#808080" stroke="#000" stroke-width="0.9"/>
<circle cx="305.15" cy="241.5" r="2.1" fill="#808080" stroke="#000" stroke-width="0.9"/>
<circle cx="324.52" cy="247" r="2.1" fill="#808080" stroke="#000" stroke-width="0.9"/>
<rect x="206.15" y="233.05" width="4.3" height="4.3" fill="#fff" stroke="#000" stroke-width="1.05"/>
<rect x="225.52" y="234.55" width="4.3" height="4.3" fill="#fff" stroke="#000" stroke-width="1.05"/>
<rect x="244.89" y="235.05" width="4.3" height="4.3" fill="#fff" stroke="#000" stroke-width="1.05"/>
<rect x="264.26" y="234.15" width="4.3" height="4.3" fill="#fff" stroke="#000" stroke-width="1.05"/>
<rect x="283.63" y="237.45" width="4.3" height="4.3" fill="#fff" stroke="#000" stroke-width="1.05"/>
<rect x="303" y="232.85" width="4.3" height="4.3" fill="#fff" stroke="#000" stroke-width="1.05"/>
<rect x="322.37" y="236.15" width="4.3" height="4.3" fill="#fff" stroke="#000" stroke-width="1.05"/>
<circle cx="208.3" cy="235.9" r="2.55" fill="#000" stroke="#000" stroke-width="0"/>
<circle cx="227.67" cy="232.2" r="2.55" fill="#000" stroke="#000" stroke-width="0"/>
<circle cx="247.04" cy="241" r="2.55" fill="#000" stroke="#000" stroke-width="0"/>
<circle cx="266.41" cy="241.1" r="2.55" fill="#000" stroke="#000" stroke-width="0"/>
<circle cx="285.78" cy="236.3" r="2.55" fill="#000" stroke="#000" stroke-width="0"/>
<circle cx="305.15" cy="243.1" r="2.55" fill="#000" stroke="#000" stroke-width="0"/>
<circle cx="324.52" cy="248.3" r="2.55" fill="#000" stroke="#000" stroke-width="0"/>
<path d="M206 313.2h10.9M206 325.6h10.9M206 338.1h10.9" stroke="#000" stroke-width="1"/>
<circle cx="211.45" cy="313.2" r="2.45" fill="#000" stroke="#000" stroke-width="0"/>
<circle cx="211.45" cy="325.6" r="2.1" fill="#808080" stroke="#000" stroke-width="0.9"/>
<rect x="209.3" y="335.95" width="4.3" height="4.3" fill="#fff" stroke="#000" stroke-width="1.05"/>
<g font-size="7.55" fill="#111"><text x="220.4" y="315.9">DT386F-endoNA2 (donor 1)</text><text x="220.4" y="328.2">DT386F-endoNA2 (donor 2)</text><text x="220.4" y="340.5">V5-endoNA2 (donor 2)</text></g>
</svg>
</body></html>
